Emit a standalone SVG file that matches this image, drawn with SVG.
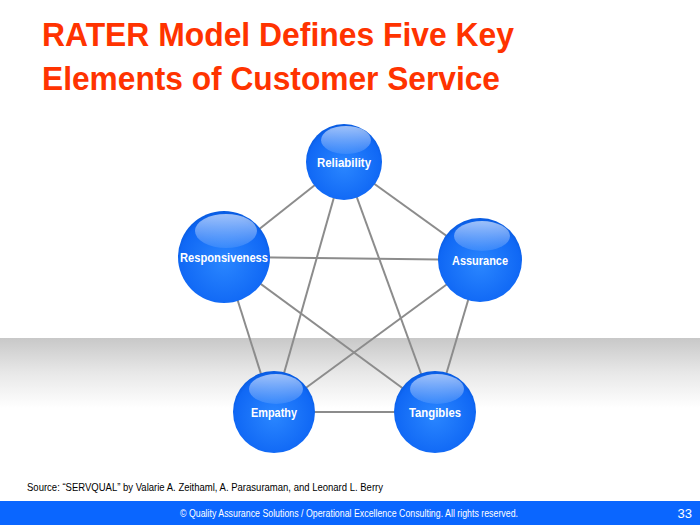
<svg xmlns="http://www.w3.org/2000/svg" width="700" height="525" viewBox="0 0 700 525">
<defs>
<linearGradient id="band" x1="0" y1="0" x2="0" y2="1"><stop offset="0" stop-color="#c8c8c8"/><stop offset="0.5" stop-color="#e8e8e8"/><stop offset="1" stop-color="#ffffff"/></linearGradient>
<radialGradient id="ball" cx="0.5" cy="0.55" r="0.6"><stop offset="0" stop-color="#2a86ff"/><stop offset="0.8" stop-color="#1068f5"/><stop offset="1" stop-color="#0050d0"/></radialGradient>
<linearGradient id="shine" x1="0" y1="0" x2="0" y2="1"><stop offset="0" stop-color="#ffffff" stop-opacity="0.6"/><stop offset="1" stop-color="#ffffff" stop-opacity="0.1"/></linearGradient>
<style>
.t{font-family:"Liberation Sans",Arial,sans-serif;font-weight:bold;fill:#ff3300;font-size:34px}
.l{font-family:"Liberation Sans",Arial,sans-serif;font-weight:bold;fill:#fff;font-size:13px;text-anchor:middle}
.e{stroke:#8c8c8c;stroke-width:2}
.s{font-family:"Liberation Sans",Arial,sans-serif}
</style>
</defs>
<rect width="700" height="525" fill="#fff"/>
<rect x="0" y="338" width="700" height="70" fill="url(#band)"/>
<text class="t" x="42" y="46" textLength="472" lengthAdjust="spacingAndGlyphs">RATER Model Defines Five Key</text>
<text class="t" x="42" y="90" textLength="458" lengthAdjust="spacingAndGlyphs">Elements of Customer Service</text>
<g id="connectors">
<line class="e" x1="344" y1="162" x2="224" y2="257"/>
<line class="e" x1="344" y1="162" x2="480" y2="260"/>
<line class="e" x1="344" y1="162" x2="273" y2="412"/>
<line class="e" x1="344" y1="162" x2="435" y2="412"/>
<line class="e" x1="224" y1="257" x2="480" y2="260"/>
<line class="e" x1="224" y1="257" x2="273" y2="412"/>
<line class="e" x1="224" y1="257" x2="435" y2="412"/>
<line class="e" x1="480" y1="260" x2="273" y2="412"/>
<line class="e" x1="480" y1="260" x2="435" y2="412"/>
<line class="e" x1="273" y1="412" x2="435" y2="412"/>
</g>
<g id="reliability"><circle cx="344" cy="162" r="38" fill="url(#ball)"/><ellipse cx="346" cy="140" rx="25" ry="14" fill="url(#shine)"/><text class="l" x="344" y="167" textLength="54" lengthAdjust="spacingAndGlyphs">Reliability</text></g>
<g id="responsiveness"><circle cx="224" cy="257" r="46" fill="url(#ball)"/><ellipse cx="226" cy="231" rx="31" ry="17" fill="url(#shine)"/><text class="l" x="224" y="262" textLength="88" lengthAdjust="spacingAndGlyphs">Responsiveness</text></g>
<g id="assurance"><circle cx="480" cy="260" r="42" fill="url(#ball)"/><ellipse cx="482" cy="236" rx="28" ry="15" fill="url(#shine)"/><text class="l" x="480" y="265" textLength="56" lengthAdjust="spacingAndGlyphs">Assurance</text></g>
<g id="empathy"><circle cx="274" cy="412" r="41" fill="url(#ball)"/><ellipse cx="276" cy="389" rx="27" ry="15" fill="url(#shine)"/><text class="l" x="274" y="417" textLength="46" lengthAdjust="spacingAndGlyphs">Empathy</text></g>
<g id="tangibles"><circle cx="435" cy="412" r="41" fill="url(#ball)"/><ellipse cx="437" cy="389" rx="27" ry="15" fill="url(#shine)"/><text class="l" x="435" y="417" textLength="52" lengthAdjust="spacingAndGlyphs">Tangibles</text></g>
<text class="s" x="27" y="491" font-size="11" fill="#000" textLength="356" lengthAdjust="spacingAndGlyphs">Source: “SERVQUAL” by Valarie A. Zeithaml, A. Parasuraman, and Leonard L. Berry</text>
<rect x="0" y="501" width="700" height="24" fill="#0a66ff"/>
<text class="s" x="180" y="517" font-size="10" fill="#fff" textLength="338" lengthAdjust="spacingAndGlyphs">© Quality Assurance Solutions / Operational Excellence Consulting.  All rights reserved.</text>
<text class="s" x="692" y="518" text-anchor="end" font-size="13" fill="#fff">33</text>
</svg>
